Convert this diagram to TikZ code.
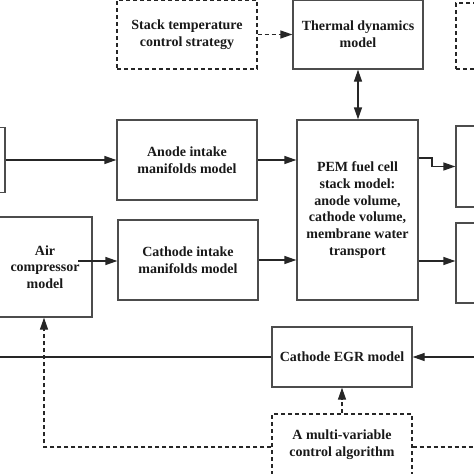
\documentclass[tikz,border=0pt]{standalone}
\usepackage{fontspec}
\setmainfont{Liberation Serif}
\usetikzlibrary{arrows.meta,calc}
\tikzset{
  blk/.style={draw=black!70,line width=1.3pt,align=center,inner sep=0pt,
    font=\bfseries\fontsize{14pt}{16.7pt}\selectfont,text=black!90},
  dblk/.style={blk,draw=black!85,dash pattern=on 4pt off 3pt},
  conn/.style={draw=black!85,line width=1.3pt,-{Triangle[length=12pt,width=8pt]}},
  dconn/.style={conn,dash pattern=on 4pt off 3pt},
  bconn/.style={draw=black!85,line width=1.3pt,{Triangle[length=12pt,width=8pt]}-{Triangle[length=12pt,width=8pt]}},
  plain/.style={draw=black!85,line width=1.3pt}
}
\begin{document}
\begin{tikzpicture}[x=1pt,y=-1pt]
\useasboundingbox[fill=white] (0,0) rectangle (474,474);
\clip (0,0) rectangle (474,474);
\node[dblk,minimum width=140pt,minimum height=69pt] (stack) at (187,34.5) {Stack temperature\\control strategy};
\node[blk,minimum width=130pt,minimum height=69pt] (thermal) at (358,34.5) {Thermal dynamics\\model};
\node[dblk,minimum width=44pt,minimum height=66pt] (rdash) at (478,36) {};
\node[blk,minimum width=45pt,minimum height=65pt] (lbox) at (-17.5,160) {};
\node[blk,minimum width=140pt,minimum height=80pt] (anode) at (187,160) {Anode intake\\manifolds model};
\node[blk,minimum width=121pt,minimum height=180pt] (pem) at (357.5,210) {PEM fuel cell\\stack model:\\anode volume,\\cathode volume,\\membrane water\\transport};
\node[blk,minimum width=44pt,minimum height=81pt] (r1) at (478,166.5) {};
\node[blk,minimum width=44pt,minimum height=80pt] (r2) at (478,263) {};
\node[blk,minimum width=94pt,minimum height=100pt] (air) at (45,267) {Air\\compressor\\model};
\node[blk,minimum width=140pt,minimum height=80pt] (cathode) at (188,260) {Cathode intake\\manifolds model};
\node[blk,minimum width=140pt,minimum height=60pt] (egr) at (342,357) {Cathode EGR model};
\node[dblk,minimum width=140pt,minimum height=62pt] (ctrl) at (342,445) {A multi-variable\\control algorithm};
\coordinate (s1) at (432,158);
\coordinate (a0) at (78,261);
\coordinate (l0) at (-10,357);
\coordinate (r0) at (490,357);
\coordinate (c0) at (490,447);
\coordinate (c1) at (44,447);
% connectors
\draw[dconn] (stack) -- (thermal);
\draw[bconn] (thermal.south) -- (thermal.south |- pem.north);
\draw[conn] (lbox.east) -- (anode.west);
\draw[conn] (anode.east) -- (anode.east -| pem.west);
\draw[conn] (pem.east |- s1) -- (s1) |- (r1.west);
\draw[conn] (pem.east |- a0) -- (r2.west |- a0);
\draw[conn] (a0) -- (a0 -| cathode.west);
\draw[conn] (cathode.east) -- (cathode.east -| pem.west);
\draw[plain] (egr.west) -- (l0);
\draw[conn] (r0) -- (egr.east);
\draw[dconn] (ctrl.north) -- (egr.south);
\draw[dconn] (ctrl.west |- c1) -- (c1) -- (c1 |- air.south);
\draw[plain,dash pattern=on 4pt off 3pt] (ctrl.east |- c0) -- (c0);
\end{tikzpicture}
\end{document}
